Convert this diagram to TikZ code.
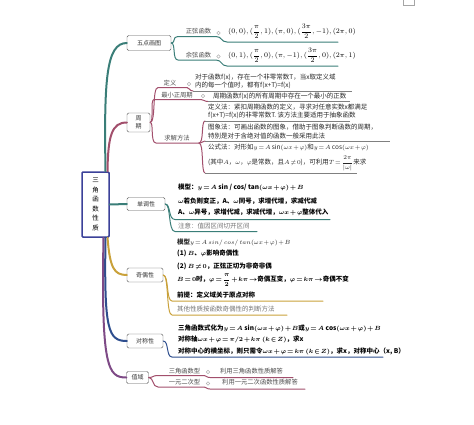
\documentclass[tikz,border=0pt]{standalone}
\usepackage{fontspec}
\setmainfont{Noto Sans CJK SC}
\usepackage{amsmath}
\definecolor{cteal}{HTML}{3A7E78}
\definecolor{cmaroon}{HTML}{A24F6C}
\definecolor{cgold}{HTML}{C9A13A}
\definecolor{cblue}{HTML}{2E4E8E}
\definecolor{cpurple}{HTML}{7E4A86}
\definecolor{croot}{HTML}{3B4199}
\medmuskip=1.5mu
\thickmuskip=2mu
\begin{document}
\begin{tikzpicture}[x=1pt,y=-1pt,
  trunk/.style={line width=2pt, line cap=round},
  sub/.style={line width=1pt, line cap=round},
  gline/.style={line width=0.8pt, black!50},
  branch/.style={draw=black!65, rounded corners=1.5pt, fill=white, inner sep=0pt, font=\fontsize{6}{7}\selectfont, text=black!80},
  lab/.style={inner sep=0pt, font=\fontsize{6.3}{7}\selectfont, text=black!70},
  txt/.style={inner sep=0pt, anchor=base west, font=\fontsize{6.5}{8}\selectfont, text=black!85},
  btxt/.style={inner sep=0pt, anchor=base west, font=\fontsize{6.5}{8}\selectfont\bfseries\boldmath, text=black},
  gtxt/.style={txt, text=black!55},
  knob/.style={circle, draw=black!30, fill=white, line width=0.4pt, inner sep=0pt, minimum size=3.5pt},
]
\useasboundingbox (0,0) rectangle (474,424);
\draw[black!35, line width=0.5pt] (403,-2) rectangle (414,5);

% root
\node[draw=croot, line width=1.5pt, rounded corners=1pt, fill=white, minimum width=27, minimum height=65,
  inner sep=0pt, align=center, font=\fontsize{6.5}{9.5}\selectfont] (root) at (95.5,204.5) {三\\角\\函\\数\\性\\质};

% branches
\node[branch, minimum width=44, minimum height=15] (wd) at (149,43) {五点画图};
\node[branch, minimum width=23, minimum height=19, align=center, font=\fontsize{6}{8}\selectfont] (zq) at (138.5,122.5) {周\\期};
\node[branch, minimum width=38, minimum height=13] (dd) at (146,204) {单调性};
\node[branch, minimum width=36, minimum height=14] (jo) at (145,275) {奇偶性};
\node[branch, minimum width=36, minimum height=14] (dc) at (145,341) {对称性};
\node[branch, minimum width=22, minimum height=12] (zy) at (137.5,377.5) {值域};

% trunk connectors
\draw[trunk,cteal] ([xshift=10pt]root.north) .. controls (104,80) and (106,43) .. (wd.west);
\draw[trunk,cmaroon] ([xshift=12pt]root.north) .. controls (108,135) and (112,122.5) .. (zq.west);
\draw[trunk,cteal] (root.east) .. controls (118,204.5) and (118,204) .. (dd.west);
\draw[trunk,cgold] ([xshift=12pt]root.south) .. controls (110,268) and (114,275) .. (jo.west);
\draw[trunk,cblue] ([xshift=10pt]root.south) .. controls (104,330) and (108,341) .. (dc.west);
\draw[trunk,cpurple] ([xshift=8pt]root.south) .. controls (101,368) and (108,377.5) .. (zy.west);

% ---- 五点画图
\node[lab] (zx) at (198.5,31.5) {正弦函数};
\node[lab] (yx) at (198.5,55) {余弦函数};
\coordinate (zxa) at (178,36.5); \coordinate (zxb) at (216,36.5); \coordinate (zxc) at (227,42); \coordinate (zxd) at (338,42);
\coordinate (yxa) at (178,60); \coordinate (yxb) at (216,60); \coordinate (yxc) at (227,66); \coordinate (yxd) at (338,66);
\draw[sub,cteal] (wd.east) .. controls (176,43) and (172,36.5) .. (zxa) -- (zxb) .. controls (222,36.5) and (221,42) .. (zxc) -- (zxd);
\draw[sub,cteal] (wd.east) .. controls (176,43) and (172,60) .. (yxa) -- (yxb) .. controls (222,60) and (221,66) .. (yxc) -- (yxd);
\node[knob] at (218.5,33) {};
\node[knob] at (218.5,56.5) {};
\node[txt, font=\fontsize{6.8}{8}\selectfont, text=black] (zxv) at (228,33.5) {$(0,0),(\dfrac{\pi}{2},1),(\pi,0),(\dfrac{3\pi}{2},-1),(2\pi,0)$};
\node[txt, font=\fontsize{6.8}{8}\selectfont, text=black] (yxv) at (228,57.5) {$(0,1),(\dfrac{\pi}{2},0),(\pi,-1),(\dfrac{3\pi}{2},0),(2\pi,1)$};

% ---- 周期
\node[lab] (dy) at (170,83) {定义};
\node[lab] (zx5) at (177,95.5) {最小正周期};
\node[lab] (qj) at (177,138.5) {求解方法};
\coordinate (dya) at (158,87.5); \coordinate (dyb) at (187,87.5); \coordinate (dyc) at (193,91); \coordinate (dyd) at (352,91);
\coordinate (xza) at (154,99.5); \coordinate (xzb) at (201,99.5); \coordinate (xzc) at (208,101.5); \coordinate (xzd) at (350,101.5);
\coordinate (qja) at (156,143); \coordinate (qjb) at (199,143);
\coordinate (f1a) at (205,121); \coordinate (f1b) at (350,121);
\coordinate (f2a) at (205,141); \coordinate (f2b) at (390,141);
\coordinate (f3a) at (205,173); \coordinate (f3b) at (357,173);
\draw[sub,cmaroon] (zq.east) .. controls (156,122) and (152,87.5) .. (dya) -- (dyb);
\draw[sub,cmaroon] (zq.east) .. controls (154,122) and (150,99.5) .. (xza) -- (xzb);
\draw[sub,cmaroon] (zq.east) .. controls (154,122) and (150,143) .. (qja) -- (qjb);
\draw[sub,cmaroon] (dyb) .. controls (190,87.5) and (189,91) .. (dyc);
\draw[sub,cmaroon] (xzb) .. controls (204,99.5) and (204,101.5) .. (xzc);
\draw[sub,cmaroon] (qjb) .. controls (204,143) and (201,121) .. (f1a);
\draw[sub,cmaroon] (qjb) .. controls (203,143) and (202,141) .. (f2a);
\draw[sub,cmaroon] (qjb) .. controls (204,143) and (201,173) .. (f3a);
\draw[gline] (dyc) -- (dyd);
\draw[gline] (xzc) -- (xzd);
\draw[gline] (f1a) -- (f1b);
\draw[gline] (f2a) -- (f2b);
\draw[gline] (f3a) -- (f3b);
\node[knob] at (189,84) {};
\node[knob] at (203,96) {};
\node[txt] (dy1) at (195,79.5) {对于函数f(x)，存在一个非零常数T，当x取定义域};
\node[txt] (dy2) at (195,87.5) {内的每一个值时，都有f(x+T)=f(x)};
\node[txt] (xz1) at (213,98) {周期函数f(x)的所有周期中存在一个最小的正数};
\node[txt] (f11) at (208,109.5) {定义法：紧扣周期函数的定义，寻求对任意实数x都满足};
\node[txt] (f12) at (208,117.5) {f(x+T)=f(x)的非零常数T. 该方法主要适用于抽象函数};
\node[txt] (f21) at (208,129.5) {图象法：可画出函数的图象，借助于图象判断函数的周期，};
\node[txt] (f22) at (208,138) {特别是对于含绝对值的函数一般采用此法};
\node[txt] (f31) at (208,149) {公式法：对形如$y=A\sin(\omega x+\varphi)$和$y=A\cos(\omega x+\varphi)$};
\node[txt] (f32) at (208,164.5) {(其中$A$，$\omega$，$\varphi$是常数，且$A\neq0$)，可利用$T=\dfrac{2\pi}{|\omega|}$来求};

% ---- 单调性
\coordinate (dda) at (175,219.5); \coordinate (ddb) at (330,219.5);
\coordinate (ddc) at (175,231.5); \coordinate (ddd) at (257,231.5);
\draw[sub,cteal] (dd.east) .. controls (171,204) and (168,219.5) .. (dda) -- (ddb);
\draw[sub,cteal] (dd.east) .. controls (171,204) and (168,231.5) .. (ddc) -- (ddd);
\node[btxt] (dd1) at (178,189.5) {模型：$y=A\sin$ / cos/ tan$\left(\omega x+\varphi\right)+B$};
\node[btxt] (dd2) at (178,203.5) {$\omega$若负则变正，A、$\omega$同号，求增代增，求减代减};
\node[btxt] (dd3) at (178,214.5) {A、$\omega$异号，求增代减，求减代增，$\omega x+\varphi$整体代入};
\node[gtxt] (dd4) at (178,228) {注意：值因区间切开区间};

% ---- 奇偶性
\coordinate (joa) at (172,301); \coordinate (job) at (323,301);
\coordinate (joc) at (172,315); \coordinate (jod) at (287,315);
\draw[sub,cgold] (jo.east) .. controls (169,275) and (166,301) .. (joa) -- (job);
\draw[sub,cgold] (jo.east) .. controls (169,275) and (166,315) .. (joc) -- (jod);
\node[txt] (jo1) at (177,244.5) {\textbf{模型}$y=A\,sin/\,cos/\,tan(\omega x+\varphi)+B$};
\node[btxt] (jo2) at (177,255.5) {(1) $B$、$\varphi$影响奇偶性};
\node[btxt] (jo3) at (177,268.5) {(2) $B\neq0$，正弦正切为非奇非偶};
\node[btxt] (jo4) at (177,281.5) {$B=0$时，$\varphi=\dfrac{\pi}{2}+k\pi\rightarrow$奇偶互变，$\varphi=k\pi\rightarrow$奇偶不变};
\node[btxt] (jo5) at (177,297.5) {前提：定义域关于原点对称};
\node[gtxt] (jo6) at (177,311.5) {其他性质按函数奇偶性的判断方法};

% ---- 对称性
\coordinate (dca) at (172,357); \coordinate (dcb) at (383,357);
\draw[sub,cblue] (dc.east) .. controls (169,341) and (166,357) .. (dca) -- (dcb);
\node[btxt] (dc1) at (178,330.5) {三角函数式化为$y=A\sin(\omega x+\varphi)+B$或$y=A\cos(\omega x+\varphi)+B$};
\node[btxt] (dc2) at (178,341.5) {对称轴$\omega x+\varphi=\pi/2+k\pi\,(k\in Z)$，求x};
\node[btxt] (dc3) at (178,353.5) {对称中心的横坐标，则只需令$\omega x+\varphi=k\pi\,(k\in Z)$，求x，对称中心（x, B）};

% ---- 值域
\node[lab] (sj) at (184.5,371) {三角函数型};
\node[lab] (ey) at (184.5,382) {一元二次型};
\coordinate (sja) at (158,375.5); \coordinate (sjb) at (203,375.5); \coordinate (sjc) at (210,377.5); \coordinate (sjd) at (293,377.5);
\coordinate (eya) at (158,387); \coordinate (eyb) at (203,387); \coordinate (eyc) at (210,389); \coordinate (eyd) at (305,389);
\draw[sub,cmaroon] (zy.east) .. controls (154,377.5) and (152,375.5) .. (sja) -- (sjb) .. controls (207,375.5) and (206,377.5) .. (sjc) -- (sjd);
\draw[sub,cmaroon] (zy.east) .. controls (154,377.5) and (152,387) .. (eya) -- (eyb) .. controls (207,387) and (206,389) .. (eyc) -- (eyd);
\node[knob] at (208,372) {};
\node[knob] at (208,383.5) {};
\node[lab] (sjt) at (251.5,371.5) {利用三角函数性质解答};
\node[lab] (eyt) at (260,382.5) {利用一元二次函数性质解答};
\end{tikzpicture}
\end{document}
